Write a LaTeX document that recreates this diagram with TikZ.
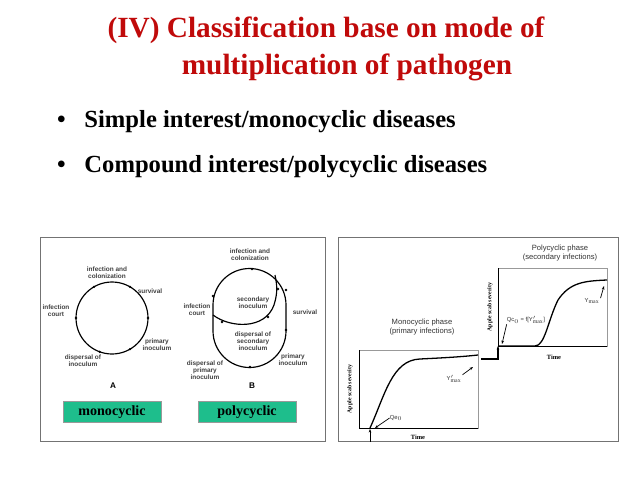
\documentclass[tikz,border=0pt]{standalone}
\usepackage{fontspec}
\setmainfont{Liberation Serif}
\newfontfamily\sfont{Liberation Sans}
\usetikzlibrary{arrows.meta}
\definecolor{titlered}{RGB}{192,10,10}
\definecolor{boxgreen}{RGB}{30,190,140}
\begin{document}
\begin{tikzpicture}[x=0.03cm,y=-0.03cm,
  lbl/.style={font=\sfont\fontsize{5.5}{6}\selectfont\bfseries,text=black!75,align=center,inner sep=0pt},
  cyc/.style={line width=1pt},
  gbox/.style={draw=black!40,fill=boxgreen,minimum width=98*0.03cm,minimum height=18*0.03cm,font=\bfseries\fontsize{12}{13}\selectfont},
  panel/.style={draw=black!55,line width=0.6pt},
  small/.style={font=\sfont\fontsize{6.5}{7.5}\selectfont,text=black!80,align=center,inner sep=0pt},
  tip/.style={-{Stealth[length=3pt]},line width=0.6pt}]
\useasboundingbox (0,0) rectangle (638,478);
% title
\node[font=\bfseries\fontsize{25}{28}\selectfont,text=titlered] (t1) at (326,30) {(IV) Classification base on mode of};
\node[font=\bfseries\fontsize{25}{28}\selectfont,text=titlered] (t2) at (347,67) {multiplication of pathogen};
\node[font=\bfseries\fontsize{21}{23}\selectfont,anchor=west] (b1) at (53,122) {\textbullet\hspace{16pt}Simple interest/monocyclic diseases};
\node[font=\bfseries\fontsize{21}{23}\selectfont,anchor=west] (b2) at (53,167) {\textbullet\hspace{16pt}Compound interest/polycyclic diseases};
% left panel
\node[panel,minimum width=285*0.03cm,minimum height=204*0.03cm,anchor=north west] (lp) at (40,237) {};
\draw[cyc] (112,318) circle[radius=36];
\foreach \a in {110,60,0,-60,-120,180}
  \fill (112,318) ++(\a:36) circle[radius=1.3];
\node[lbl] (ic) at (107,273) {infection and\\colonization};
\node[lbl] (sv) at (150,291) {survival};
\node[lbl] (ct) at (56,311) {infection\\court};
\node[lbl] (pi) at (157,345) {primary\\inoculum};
\node[lbl] (di) at (83,361) {dispersal of\\inoculum};
\node[font=\sfont\bfseries\fontsize{7}{8}\selectfont] (A) at (113,386) {A};
% B
\draw[cyc] (213,315) -- (213,331) arc[start angle=180,end angle=0,radius=36.5] -- (286,305) arc[start angle=0,end angle=-180,radius=36.5] -- (213,315);
\draw[cyc] (213,315) .. controls (230,328) and (265,330) .. (274,305) .. controls (278,292) and (277,285) .. (275,275);
\foreach \p in {(213,296),(286,290),(286,330),(250,367),(252,269),(222,322),(268,317),(278,289)}
  \fill \p circle[radius=1.3];
\node[lbl] (ic2) at (250,255) {infection and\\colonization};
\node[lbl] (ct2) at (197,310) {infection\\court};
\node[lbl] (si) at (253,303) {secondary\\inoculum};
\node[lbl] (sv2) at (305,312) {survival};
\node[lbl] (ds) at (253,341) {dispersal of\\secondary\\inoculum};
\node[lbl] (pi2) at (293,360) {primary\\inoculum};
\node[lbl] (dp) at (205,370) {dispersal of\\primary\\inoculum};
\node[font=\sfont\bfseries\fontsize{7}{8}\selectfont] (B) at (252,386) {B};
\node[gbox] (mono) at (112,412) {monocyclic};
\node[gbox] (poly) at (247,412) {polycyclic};
% right panel
\node[panel,minimum width=280*0.03cm,minimum height=204*0.03cm,anchor=north west] (rp) at (338,237) {};
\draw[black!40,line width=0.5pt] (359,350) rectangle (478,428);
\draw[line width=0.8pt] (359,350) -- (359,428) -- (478,428);
\draw[line width=1.1pt] (370,428) .. controls (385,395) and (392,360) .. (420,359) .. controls (440,358) and (460,357) .. (478,355);
\draw[black!40,line width=0.5pt] (498,268) rectangle (607,346);
\draw[line width=0.8pt] (498,268) -- (498,346) -- (607,346);
\draw[line width=1.1pt] (498,346) -- (535,346) .. controls (545,346) and (548,320) .. (558,300) .. controls (570,282) and (585,281) .. (607,280);
\node[small] (mp) at (422,327) {Monocyclic phase\\(primary infections)};
\node[small] (pp) at (560,253) {Polycyclic phase\\(secondary infections)};
\node[font=\bfseries\fontsize{5}{6}\selectfont,rotate=90] (ya) at (350,389) {Apple scab severity};
\node[font=\bfseries\fontsize{5}{6}\selectfont,rotate=90] (yb) at (490,307) {Apple scab severity};
\node[font=\bfseries\fontsize{5.5}{6}\selectfont] (tm1) at (418,437) {Time};
\node[font=\bfseries\fontsize{5.5}{6}\selectfont] (tm2) at (554,357) {Time};
\node[small,font=\sfont\fontsize{5}{6}\selectfont] (q1) at (396,418) {Qe$_0$};
\node[small,font=\sfont\fontsize{5}{6}\selectfont] (y1) at (454,379) {Y$'_{\max}$};
\node[small,font=\sfont\fontsize{5}{6}\selectfont] (q2) at (526,320) {Qc$_0$ = f[Y$'_{\max}$]};
\node[small,font=\sfont\fontsize{5}{6}\selectfont] (y2) at (592,301) {Y$_{\max}$};
\draw[tip] (q1.west) -- (375,428);
\draw[tip] (y1.north east) ++(1,0) -- (473,367);
\draw[tip] (q2.south west) -- (502,344);
\draw[tip] (y2.north east) ++(1,0) -- (604,286);
\coordinate (c1) at (481,359);
\coordinate (c2) at (498,359);
\coordinate (c3) at (498,346);
\draw[line width=1pt,-{Stealth[length=3pt]}] (c1) -- (c2) -- (c3);
\coordinate (a0) at (370,442);
\coordinate (a1) at (370,429);
\draw[tip] (a0) -- (a1);
\end{tikzpicture}
\end{document}
